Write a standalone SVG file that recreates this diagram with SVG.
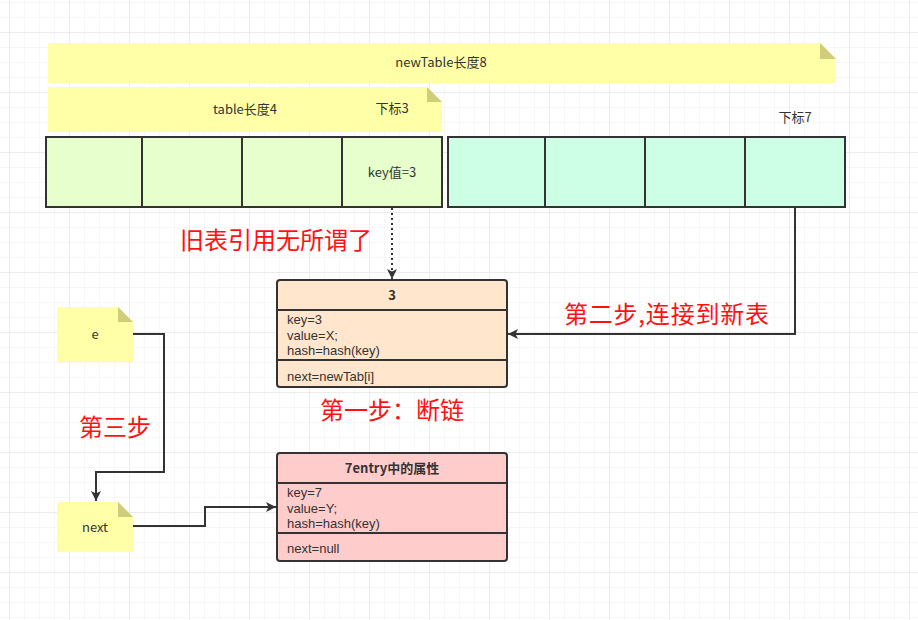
<svg xmlns="http://www.w3.org/2000/svg" width="918" height="620" viewBox="0 0 918 620">
<defs>
<pattern id="minor" width="15" height="15" patternUnits="userSpaceOnUse" x="9" y="2">
<path d="M0 0H15M0 0V15" fill="none" stroke="#efefef" stroke-width="1"/>
</pattern>
<pattern id="major" width="60" height="60" patternUnits="userSpaceOnUse" x="9" y="32">
<path d="M0 0H60M0 0V60" fill="none" stroke="#e2e2e2" stroke-width="1"/>
</pattern>
<marker id="arr" markerWidth="12" markerHeight="10" refX="10" refY="5" orient="auto" markerUnits="userSpaceOnUse">
<path d="M0 0L10 5L0 10L2.5 5Z" fill="#333"/>
</marker>
</defs>
<style>
.note{fill:#ffffa8;stroke:none}
.fold{fill:#cfcc7a;stroke:none}
.t{font-family:"Noto Sans CJK SC","Noto Sans",sans-serif;font-size:13px;fill:#333}
.l{font-family:"Liberation Sans","Noto Sans CJK SC",sans-serif;font-size:13px;fill:#333}
.c{text-anchor:middle}
.b{font-weight:bold}
.red{font-family:"Noto Sans CJK SC","Noto Sans",sans-serif;font-size:24px;fill:#ff1111}
.cell{stroke:#333;stroke-width:2}
.edge{fill:none;stroke:#333;stroke-width:2}
</style>
<rect width="918" height="620" fill="#fff"/>
<rect x="0" y="0" width="918" height="620" fill="url(#minor)"/>
<rect x="0" y="0" width="918" height="620" fill="url(#major)"/>

<g id="newTableNote">
<path class="note" d="M48 43H820L836 59V83H48Z"/>
<path class="fold" d="M820 43L836 59H820Z"/>
<text class="t c" x="441" y="67">newTable长度8</text>
</g>

<g id="tableNote">
<path class="note" d="M48 87H427L442 102V132H48Z"/>
<path class="fold" d="M427 87L442 102H427Z"/>
<text class="t c" x="245" y="114">table长度4</text>
<text class="t c" x="392" y="113">下标3</text>
</g>

<g id="oldTable">
<rect class="cell" x="46" y="137" width="396" height="70" fill="#e6ffcc"/>
<path class="cell" d="M142 137V207M242 137V207M342 137V207" fill="none"/>
<text class="t c" x="392" y="177">key值=3</text>
</g>

<g id="newTable">
<rect class="cell" x="448" y="137" width="397" height="70" fill="#ccffe6"/>
<path class="cell" d="M545 137V207M645 137V207M745 137V207" fill="none"/>
<text class="t c" x="795" y="122">下标7</text>
</g>

<g id="entry3">
<rect x="277" y="280" width="230" height="107" rx="3" fill="#ffe6cc" stroke="#333" stroke-width="2"/>
<path d="M277 310H507M277 360H507" stroke="#333" stroke-width="2"/>
<text class="t c b" x="392" y="300">3</text>
<text class="l" x="287" y="324">key=3</text>
<text class="l" x="287" y="339.5">value=X;</text>
<text class="l" x="287" y="355">hash=hash(key)</text>
<text class="l" x="287" y="381">next=newTab[i]</text>
</g>

<g id="entry7">
<rect x="277" y="453" width="230" height="108" rx="3" fill="#ffcccc" stroke="#333" stroke-width="2"/>
<path d="M277 483H507M277 533H507" stroke="#333" stroke-width="2"/>
<text class="t c b" x="392" y="473">7entry中的属性</text>
<text class="l" x="287" y="497">key=7</text>
<text class="l" x="287" y="512.5">value=Y;</text>
<text class="l" x="287" y="528">hash=hash(key)</text>
<text class="l" x="287" y="553">next=null</text>
</g>

<g id="eNote">
<path class="note" d="M57 307H118L133 322V362H57Z"/>
<path class="fold" d="M118 307L133 322H118Z"/>
<text class="t c" x="95" y="339">e</text>
</g>

<g id="nextNote">
<path class="note" d="M57 502H118L133 517V552H57Z"/>
<path class="fold" d="M118 502L133 517H118Z"/>
<text class="t c" x="95" y="532">next</text>
</g>

<g id="connectors">
<path class="edge" d="M392 208V279" stroke-dasharray="2 3" marker-end="url(#arr)"/>
<path class="edge" d="M795 207V334H508" marker-end="url(#arr)"/>
<path class="edge" d="M133 334H164V472H96V501" marker-end="url(#arr)"/>
<path class="edge" d="M133 526H205V507H276" marker-end="url(#arr)"/>
</g>

<g id="labels">
<text class="red" x="180" y="249">旧表引用无所谓了</text>
<text class="red" x="320" y="419">第一步：断链</text>
<text class="red" x="564" y="323" textLength="205">第二步,连接到新表</text>
<text class="red" x="79" y="436">第三步</text>
</g>
</svg>
